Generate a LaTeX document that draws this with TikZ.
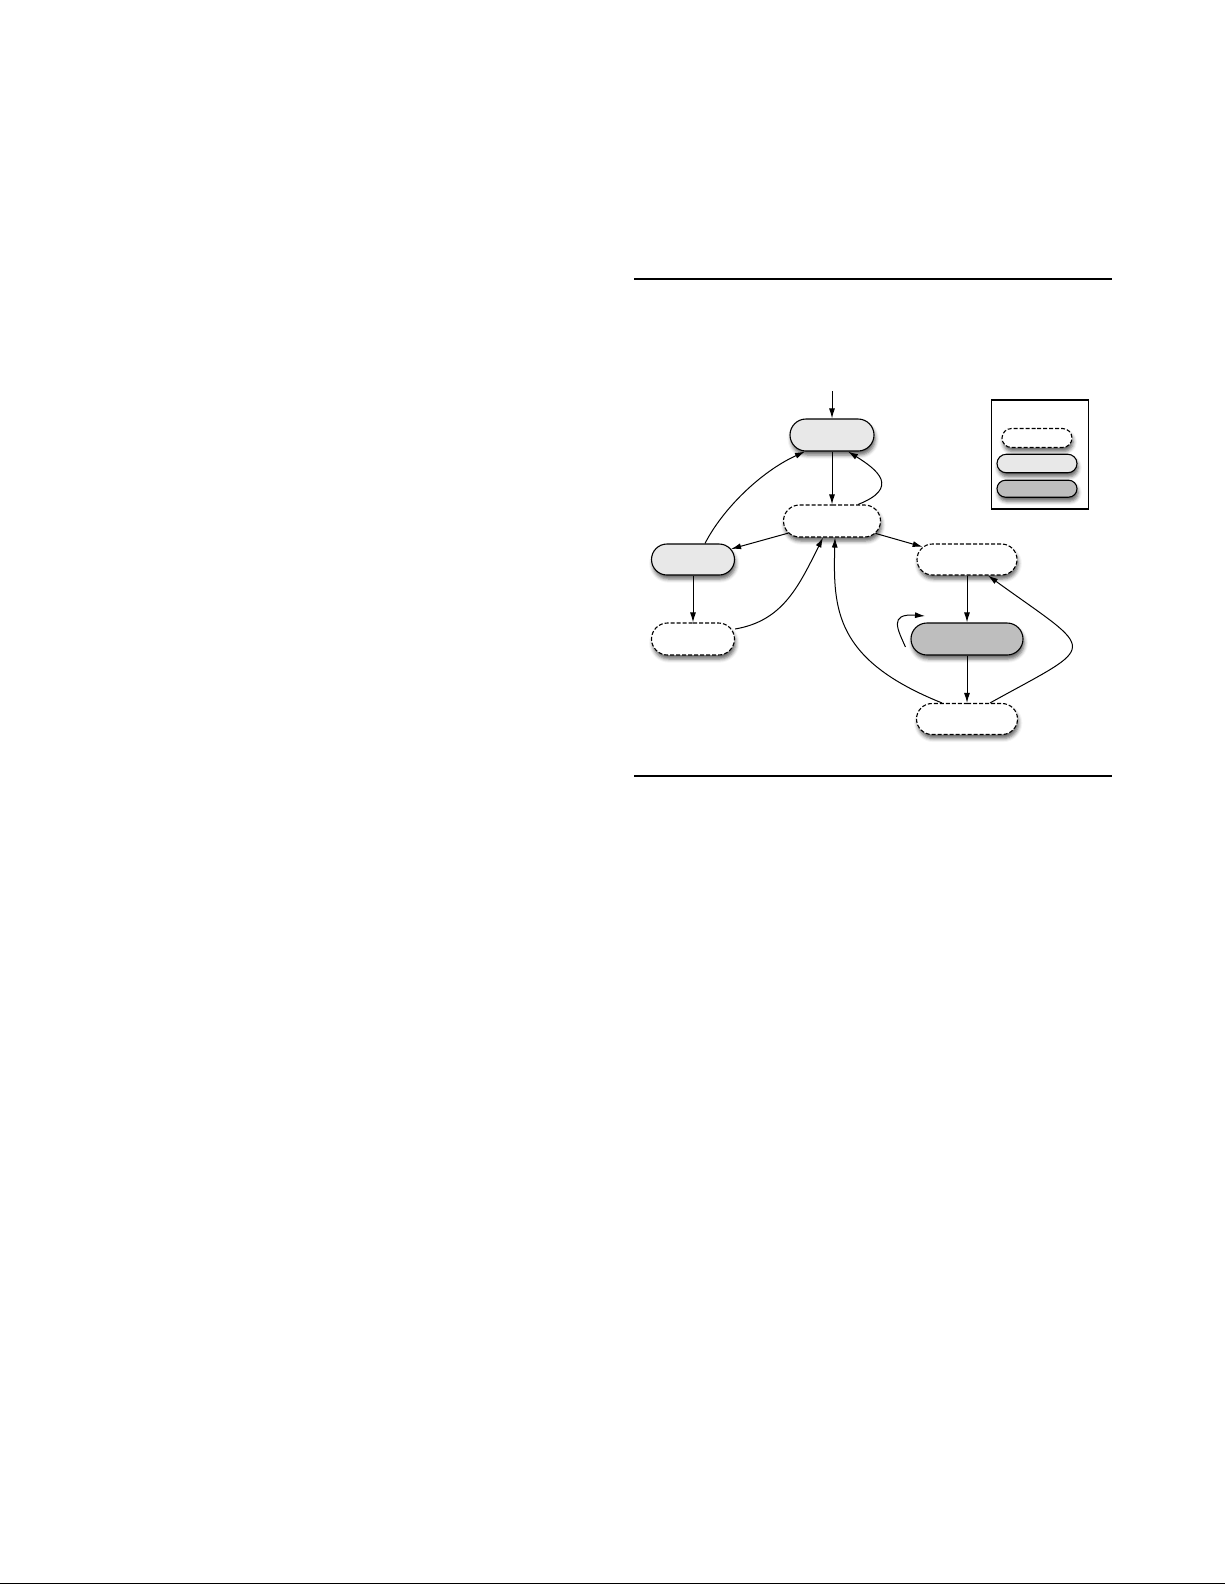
\documentclass[tikz,border=0pt]{standalone}
\usepackage{tikz}
\usetikzlibrary{shapes.misc,arrows.meta,positioning,shadows.blur}
\definecolor{statelight}{RGB}{232,232,232}
\definecolor{statedark}{RGB}{190,190,190}
\tikzset{
  basenode/.style={rounded rectangle, inner sep=0pt, line width=0.55pt,
    blur shadow={shadow xshift=0.6pt, shadow yshift=-2pt, shadow blur radius=1.8pt, shadow opacity=60}},
  dashnode/.style={basenode, draw=black, fill=white, dash pattern=on 2pt off 1pt},
  lightnode/.style={basenode, draw=black, fill=statelight},
  darknode/.style={basenode, draw=black, fill=statedark},
  link/.style={->, line width=0.5pt}
}
\begin{document}
\begin{tikzpicture}[x=0.5pt, y=-0.5pt, >={Latex[length=5pt,width=3pt]}]
  \useasboundingbox (0,0) rectangle (1225,1585);

  % Rules
  \draw[line width=0.75pt] (634,279) -- (1112,279);
  \draw[line width=0.75pt] (634,776) -- (1112,776);
  \draw[line width=0.8pt] (0,1583.5) -- (1225,1583.5);

  % States
  \node[lightnode, minimum width=42pt, minimum height=16pt] (init) at (832,435) {};
  \node[dashnode, minimum width=48.5pt, minimum height=16pt] (hub) at (832,521) {};
  \node[lightnode, minimum width=41.5pt, minimum height=15.5pt] (left) at (693,559.5) {};
  \node[dashnode, minimum width=41.5pt, minimum height=16pt] (leftlow) at (693,639) {};
  \node[dashnode, minimum width=50pt, minimum height=15.5pt] (right) at (967,559.5) {};
  \node[darknode, minimum width=56pt, minimum height=16pt] (busy) at (967,639) {};
  \node[dashnode, minimum width=50.5pt, minimum height=15.5pt] (done) at (967,719) {};

  % Legend
  \node[draw, line width=0.6pt, inner sep=0pt, minimum width=48.3pt, minimum height=54.5pt] (legend) at (1040,454.5) {};
  \node[dashnode, minimum width=35pt, minimum height=9.5pt] (keydash) at (1037,438) {};
  \node[lightnode, minimum width=40pt, minimum height=9.25pt] (keylight) at (1037,463.5) {};
  \node[darknode, minimum width=40pt, minimum height=8.5pt] (keydark) at (1037,488.7) {};

  % Transitions
  \coordinate (start) at (832,391);
  \coordinate (loopend) at (925,616);
  \draw[link] (start) -- (init);
  \draw[link] (init) -- (hub);
  \draw[link] ([xshift=13pt]hub.north) .. controls (900,488) and (878,470) .. ([xshift=8pt]init.south);
  \draw[link] ([xshift=6pt]left.north) .. controls (722,510) and (760,472) .. ([xshift=-13.5pt]init.south);
  \draw[link] (hub) -- (left);
  \draw[link] (hub) -- (right);
  \draw[link] (left) -- (leftlow);
  \draw[link] ([yshift=5pt]leftlow.east) .. controls (782,621) and (798,588) .. ([xshift=-4.5pt]hub.south);
  \draw[link] ([xshift=-12.5pt]done.north) .. controls (835,660) and (833,610) .. ([xshift=1.5pt]hub.south);
  \draw[link] (right) -- (busy);
  \draw[link] (busy) -- (done);
  \draw[link] ([xshift=11.5pt]done.north) .. controls (1100,642) and (1098,655) .. ([xshift=10.5pt]right.south);
  \draw[link] ([xshift=-2.5pt,yshift=-4pt]busy.west) .. controls (898,630) and (888,613) .. (loopend);
\end{tikzpicture}
\end{document}
